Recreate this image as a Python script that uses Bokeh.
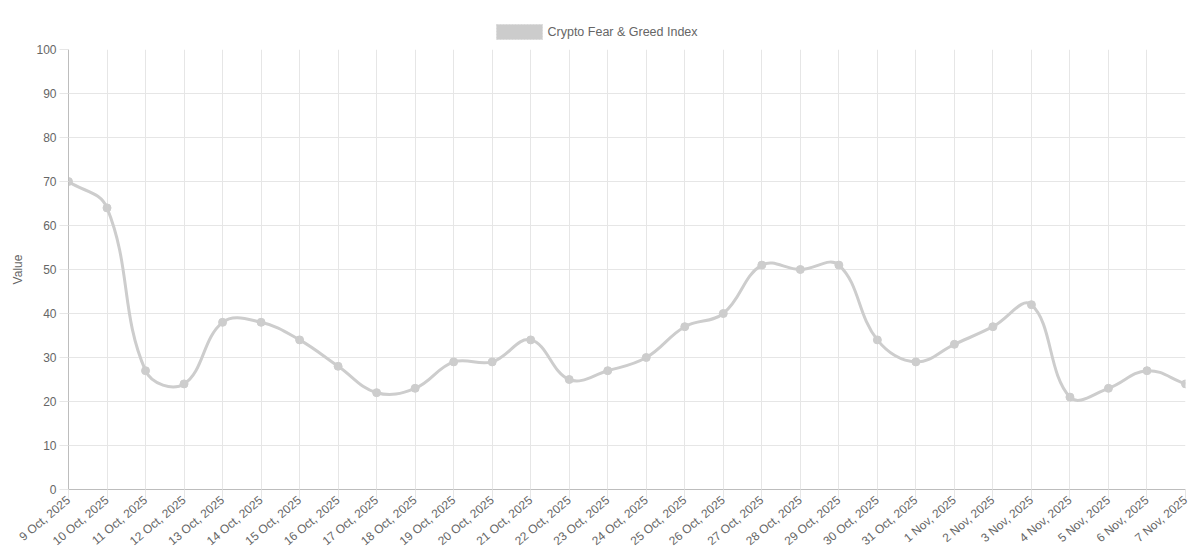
import numpy as np
from bokeh.plotting import figure
from bokeh.layouts import column
from bokeh.models import FixedTicker, Range1d
from bokeh.core.properties import value
from bokeh.embed import file_html
from bokeh.resources import INLINE

dates = ["9 Oct, 2025", "10 Oct, 2025", "11 Oct, 2025", "12 Oct, 2025", "13 Oct, 2025",
         "14 Oct, 2025", "15 Oct, 2025", "16 Oct, 2025", "17 Oct, 2025", "18 Oct, 2025",
         "19 Oct, 2025", "20 Oct, 2025", "21 Oct, 2025", "22 Oct, 2025", "23 Oct, 2025",
         "24 Oct, 2025", "25 Oct, 2025", "26 Oct, 2025", "27 Oct, 2025", "28 Oct, 2025",
         "29 Oct, 2025", "30 Oct, 2025", "31 Oct, 2025", "1 Nov, 2025", "2 Nov, 2025",
         "3 Nov, 2025", "4 Nov, 2025", "5 Nov, 2025", "6 Nov, 2025", "7 Nov, 2025"]
values = [70, 64, 27, 24, 38, 38, 34, 28, 22, 23, 29, 29, 34, 25, 27, 30, 37, 40, 51, 50,
          51, 34, 29, 33, 37, 42, 21, 23, 27, 24]
y_ticks = [0, 10, 20, 30, 40, 50, 60, 70, 80, 90, 100]
series_name = "Crypto Fear & Greed Index"

LINE = "#cdcdcd"
FONT = "Liberation Sans"
TXT = "#666666"
GRID = "#e6e6e6"

n = len(values)
xs = np.arange(n, dtype=float)
ys = np.array(values, dtype=float)

W = 1200
LB, RB = 68, 15
FW, FH = W - LB - RB, 440
TB, BB = 8, 69

# Chart.js-style spline (tension 0.4) control points, computed in pixel space
sx, sy = FW / (n - 1), FH / 100.0
px, py = xs * sx, ys * sy
t = 0.4
cp_prev = np.zeros((n, 2)); cp_next = np.zeros((n, 2))
for i in range(n):
    a = (px[i - 1], py[i - 1]) if i > 0 else (px[i], py[i])
    b = (px[i], py[i])
    c = (px[i + 1], py[i + 1]) if i < n - 1 else (px[i], py[i])
    d01 = np.hypot(b[0] - a[0], b[1] - a[1])
    d12 = np.hypot(c[0] - b[0], c[1] - b[1])
    s01 = d01 / (d01 + d12) if d01 + d12 else 0
    s12 = d12 / (d01 + d12) if d01 + d12 else 0
    fa, fb = t * s01, t * s12
    cp_prev[i] = (b[0] - fa * (c[0] - a[0]), b[1] - fa * (c[1] - a[1]))
    cp_next[i] = (b[0] + fb * (c[0] - a[0]), b[1] + fb * (c[1] - a[1]))
cp_prev[:, 1] = np.clip(cp_prev[:, 1], 0, FH); cp_next[:, 1] = np.clip(cp_next[:, 1], 0, FH)

# ---- header with legend (pixel units relative to the chart frame) ----
HH = 41
hdr = figure(width=W, height=HH, output_backend="svg", toolbar_location=None,
             x_range=Range1d(0, FW), y_range=Range1d(0, HH),
             min_border_left=LB, min_border_right=RB, min_border_top=0, min_border_bottom=0,
             x_axis_type=None, y_axis_type=None)
hdr.outline_line_color = None
hdr.xgrid.visible = False
hdr.ygrid.visible = False
hdr.quad(left=[428], right=[474], top=[17], bottom=[2], fill_color="#cccccc",
         line_color="#d9d9d9", line_width=1, line_dash="2 1")
hdr.text(x=[479], y=[9.5], text=[series_name], text_font=value(FONT),
         text_font_size="12.5px", text_color=TXT, text_baseline="middle")

# ---- main chart ----
p = figure(width=W, height=TB + FH + BB, output_backend="svg", toolbar_location=None,
           x_range=Range1d(0, n - 1), y_range=Range1d(0, 100),
           min_border_left=LB, min_border_right=RB, min_border_top=TB, min_border_bottom=BB)
p.outline_line_color = None

p.bezier(x0=xs[:-1], y0=ys[:-1], x1=xs[1:], y1=ys[1:],
         cx0=cp_next[:-1, 0] / sx, cy0=cp_next[:-1, 1] / sy,
         cx1=cp_prev[1:, 0] / sx, cy1=cp_prev[1:, 1] / sy,
         line_color=LINE, line_width=3)
p.scatter(xs, ys, size=8, fill_color=LINE, line_color=LINE)

p.xaxis.ticker = FixedTicker(ticks=list(range(n)))
p.xaxis.major_label_overrides = {i: d for i, d in enumerate(dates)}
p.xaxis.major_label_orientation = 0.70
p.yaxis.ticker = FixedTicker(ticks=y_ticks)
p.yaxis.axis_label = "Value"

for ax in (p.xaxis, p.yaxis):
    ax.major_label_text_font = FONT
    ax.major_label_text_font_size = "12px"
    ax.major_label_text_color = TXT
    ax.axis_line_color = "#bdbdbd"
    ax.axis_line_width = 1
    ax.major_tick_line_color = GRID
    ax.major_tick_out = 9
    ax.major_tick_in = 0
    ax.minor_tick_line_color = None
p.xaxis.major_label_standoff = 0
p.yaxis.major_label_standoff = 3
p.yaxis.axis_label_text_font = FONT
p.yaxis.axis_label_text_font_size = "12px"
p.yaxis.axis_label_text_font_style = "normal"
p.yaxis.axis_label_text_color = TXT
p.yaxis.axis_label_standoff = 8

p.xgrid.grid_line_color = GRID
p.ygrid.grid_line_color = GRID
p.xgrid.ticker = FixedTicker(ticks=list(range(n)))
p.ygrid.ticker = FixedTicker(ticks=y_ticks)

layout = column(hdr, p, spacing=0)
open("out.html", "w").write(file_html(layout, INLINE))
